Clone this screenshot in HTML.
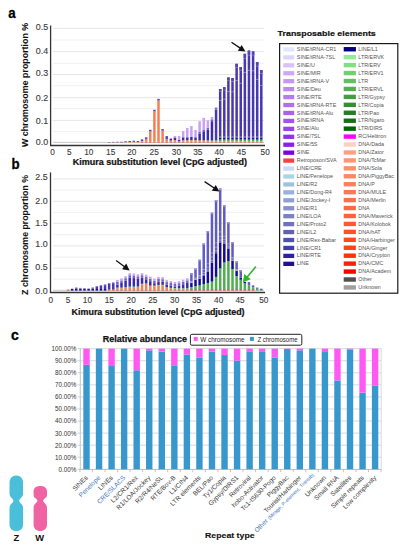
<!DOCTYPE html>
<html><head><meta charset="utf-8"><style>
html,body{margin:0;padding:0;background:#fff;width:411px;height:550px;overflow:hidden;}
body{position:relative;font-family:"Liberation Sans", sans-serif;}
</style></head><body>
<svg width="411" height="550" viewBox="0 0 411 550" style="position:absolute;left:0;top:0" font-family='"Liberation Sans", sans-serif'>
<rect x="0" y="0" width="411" height="550" fill="#fff"/>
<line x1="53.00" y1="142.40" x2="264.00" y2="142.40" stroke="#c8c8c8" stroke-width="1.0" />
<line x1="53.00" y1="131.70" x2="264.00" y2="131.70" stroke="#f0f0f0" stroke-width="1.0" />
<line x1="53.00" y1="120.40" x2="264.00" y2="120.40" stroke="#e6e6e6" stroke-width="1.0" />
<line x1="53.00" y1="108.70" x2="264.00" y2="108.70" stroke="#f0f0f0" stroke-width="1.0" />
<line x1="53.00" y1="97.70" x2="264.00" y2="97.70" stroke="#e6e6e6" stroke-width="1.0" />
<line x1="53.00" y1="85.80" x2="264.00" y2="85.80" stroke="#f0f0f0" stroke-width="1.0" />
<line x1="53.00" y1="74.50" x2="264.00" y2="74.50" stroke="#e6e6e6" stroke-width="1.0" />
<line x1="53.00" y1="63.30" x2="264.00" y2="63.30" stroke="#f0f0f0" stroke-width="1.0" />
<line x1="53.00" y1="51.40" x2="264.00" y2="51.40" stroke="#e6e6e6" stroke-width="1.0" />
<line x1="53.00" y1="40.00" x2="264.00" y2="40.00" stroke="#f0f0f0" stroke-width="1.0" />
<line x1="53.00" y1="28.40" x2="264.00" y2="28.40" stroke="#e6e6e6" stroke-width="1.0" />
<rect x="107.91" y="142.20" width="2.50" height="0.40" fill="#e2552f" />
<rect x="107.91" y="142.00" width="2.50" height="0.20" fill="#5646bd" />
<rect x="112.02" y="142.20" width="2.50" height="0.40" fill="#e2552f" />
<rect x="112.02" y="141.90" width="2.50" height="0.30" fill="#5646bd" />
<rect x="116.13" y="142.20" width="2.50" height="0.40" fill="#e2552f" />
<rect x="116.13" y="141.80" width="2.50" height="0.40" fill="#5646bd" />
<rect x="120.24" y="142.40" width="2.50" height="0.20" fill="#f57f55" />
<rect x="120.24" y="141.80" width="2.50" height="0.60" fill="#5646bd" />
<rect x="124.35" y="142.15" width="2.50" height="0.45" fill="#f57f55" />
<rect x="124.35" y="141.30" width="2.50" height="0.85" fill="#5646bd" />
<rect x="128.47" y="142.00" width="2.50" height="0.60" fill="#f57f55" />
<rect x="128.47" y="141.00" width="2.50" height="1.00" fill="#5646bd" />
<rect x="132.58" y="141.85" width="2.50" height="0.75" fill="#f57f55" />
<rect x="132.58" y="140.70" width="2.50" height="1.15" fill="#5646bd" />
<rect x="136.69" y="142.00" width="2.50" height="0.60" fill="#f57f55" />
<rect x="136.69" y="141.00" width="2.50" height="1.00" fill="#5646bd" />
<rect x="140.80" y="141.80" width="2.50" height="0.80" fill="#e2552f" />
<rect x="140.80" y="141.00" width="2.50" height="0.80" fill="#f57f55" />
<rect x="140.80" y="139.40" width="2.50" height="1.60" fill="#5646bd" />
<rect x="144.91" y="141.80" width="2.50" height="0.80" fill="#e2552f" />
<rect x="144.91" y="138.90" width="2.50" height="2.90" fill="#f57f55" />
<rect x="144.91" y="137.30" width="2.50" height="1.60" fill="#5646bd" />
<rect x="149.03" y="141.80" width="2.50" height="0.80" fill="#e2552f" />
<rect x="149.03" y="131.40" width="2.50" height="10.40" fill="#f57f55" />
<rect x="149.03" y="129.80" width="2.50" height="1.60" fill="#5646bd" />
<rect x="153.14" y="141.80" width="2.50" height="0.80" fill="#e2552f" />
<rect x="153.14" y="111.40" width="2.50" height="30.40" fill="#f57f55" />
<rect x="153.14" y="109.80" width="2.50" height="1.60" fill="#5646bd" />
<rect x="157.25" y="141.80" width="2.50" height="0.80" fill="#e2552f" />
<rect x="157.25" y="100.50" width="2.50" height="41.30" fill="#f57f55" />
<rect x="157.25" y="98.90" width="2.50" height="1.60" fill="#5646bd" />
<rect x="161.36" y="141.80" width="2.50" height="0.80" fill="#e2552f" />
<rect x="161.36" y="130.70" width="2.50" height="11.10" fill="#f57f55" />
<rect x="161.36" y="129.10" width="2.50" height="1.60" fill="#5646bd" />
<rect x="165.47" y="141.80" width="2.50" height="0.80" fill="#e2552f" />
<rect x="165.47" y="139.10" width="2.50" height="2.70" fill="#f57f55" />
<rect x="165.47" y="136.10" width="2.50" height="3.00" fill="#5646bd" />
<rect x="169.59" y="141.80" width="2.50" height="0.80" fill="#e2552f" />
<rect x="169.59" y="140.50" width="2.50" height="1.30" fill="#f57f55" />
<rect x="169.59" y="139.00" width="2.50" height="1.50" fill="#3b2ca6" />
<rect x="169.59" y="137.90" width="2.50" height="1.10" fill="#c9a2f3" />
<rect x="173.70" y="141.80" width="2.50" height="0.80" fill="#e2552f" />
<rect x="173.70" y="140.00" width="2.50" height="1.80" fill="#f57f55" />
<rect x="173.70" y="137.50" width="2.50" height="2.50" fill="#3b2ca6" />
<rect x="173.70" y="135.90" width="2.50" height="1.60" fill="#c9a2f3" />
<rect x="177.81" y="141.80" width="2.50" height="0.80" fill="#e2552f" />
<rect x="177.81" y="141.20" width="2.50" height="0.60" fill="#f57f55" />
<rect x="177.81" y="139.70" width="2.50" height="1.50" fill="#3b2ca6" />
<rect x="177.81" y="135.90" width="2.50" height="3.80" fill="#c9a2f3" />
<rect x="181.92" y="141.80" width="2.50" height="0.80" fill="#e2552f" />
<rect x="181.92" y="140.20" width="2.50" height="1.60" fill="#f57f55" />
<rect x="181.92" y="137.30" width="2.50" height="2.90" fill="#3b2ca6" />
<rect x="181.92" y="131.00" width="2.50" height="6.30" fill="#c9a2f3" />
<rect x="186.03" y="141.80" width="2.50" height="0.80" fill="#e2552f" />
<rect x="186.03" y="140.20" width="2.50" height="1.60" fill="#f57f55" />
<rect x="186.03" y="137.30" width="2.50" height="2.90" fill="#3b2ca6" />
<rect x="186.03" y="128.00" width="2.50" height="9.30" fill="#c9a2f3" />
<rect x="190.15" y="141.80" width="2.50" height="0.80" fill="#e2552f" />
<rect x="190.15" y="140.00" width="2.50" height="1.80" fill="#f57f55" />
<rect x="190.15" y="136.80" width="2.50" height="3.20" fill="#3b2ca6" />
<rect x="190.15" y="126.10" width="2.50" height="10.70" fill="#c9a2f3" />
<rect x="194.26" y="141.80" width="2.50" height="0.80" fill="#e2552f" />
<rect x="194.26" y="140.00" width="2.50" height="1.80" fill="#f57f55" />
<rect x="194.26" y="137.30" width="2.50" height="2.70" fill="#3b2ca6" />
<rect x="194.26" y="130.00" width="2.50" height="7.30" fill="#c9a2f3" />
<rect x="198.37" y="141.80" width="2.50" height="0.80" fill="#e2552f" />
<rect x="198.37" y="140.40" width="2.50" height="1.40" fill="#f57f55" />
<rect x="198.37" y="133.90" width="2.50" height="6.50" fill="#3b2ca6" />
<rect x="198.37" y="132.00" width="2.50" height="1.90" fill="#7462c9" />
<rect x="198.37" y="121.20" width="2.50" height="10.80" fill="#c9a2f3" />
<rect x="202.48" y="141.80" width="2.50" height="0.80" fill="#e2552f" />
<rect x="202.48" y="140.40" width="2.50" height="1.40" fill="#f57f55" />
<rect x="202.48" y="132.00" width="2.50" height="8.40" fill="#3b2ca6" />
<rect x="202.48" y="130.00" width="2.50" height="2.00" fill="#7462c9" />
<rect x="202.48" y="117.80" width="2.50" height="12.20" fill="#c9a2f3" />
<rect x="206.59" y="141.80" width="2.50" height="0.80" fill="#e2552f" />
<rect x="206.59" y="140.40" width="2.50" height="1.40" fill="#f57f55" />
<rect x="206.59" y="129.70" width="2.50" height="10.70" fill="#3b2ca6" />
<rect x="206.59" y="127.60" width="2.50" height="2.10" fill="#7462c9" />
<rect x="206.59" y="120.30" width="2.50" height="7.30" fill="#c9a2f3" />
<rect x="210.71" y="141.80" width="2.50" height="0.80" fill="#e2552f" />
<rect x="210.71" y="140.60" width="2.50" height="1.20" fill="#f57f55" />
<rect x="210.71" y="121.20" width="2.50" height="19.40" fill="#3b2ca6" />
<rect x="210.71" y="119.30" width="2.50" height="1.90" fill="#7462c9" />
<rect x="210.71" y="116.90" width="2.50" height="2.40" fill="#c9a2f3" />
<rect x="214.82" y="141.80" width="2.50" height="0.80" fill="#e2552f" />
<rect x="214.82" y="141.00" width="2.50" height="0.80" fill="#f57f55" />
<rect x="214.82" y="140.30" width="2.50" height="0.70" fill="#4caf50" />
<rect x="214.82" y="109.60" width="2.50" height="30.70" fill="#4838b0" />
<rect x="214.82" y="107.60" width="2.50" height="2.00" fill="#7462c9" />
<rect x="218.93" y="141.90" width="2.50" height="0.70" fill="#e2552f" />
<rect x="218.93" y="141.10" width="2.50" height="0.80" fill="#f57f55" />
<rect x="218.93" y="139.60" width="2.50" height="1.50" fill="#4caf50" />
<rect x="218.93" y="137.50" width="2.50" height="2.10" fill="#1c1090" />
<rect x="218.93" y="89.00" width="2.50" height="48.50" fill="#4838b0" />
<rect x="223.04" y="141.90" width="2.50" height="0.70" fill="#e2552f" />
<rect x="223.04" y="141.10" width="2.50" height="0.80" fill="#f57f55" />
<rect x="223.04" y="139.60" width="2.50" height="1.50" fill="#4caf50" />
<rect x="223.04" y="137.50" width="2.50" height="2.10" fill="#1c1090" />
<rect x="223.04" y="87.20" width="2.50" height="50.30" fill="#4838b0" />
<rect x="227.15" y="141.90" width="2.50" height="0.70" fill="#e2552f" />
<rect x="227.15" y="141.10" width="2.50" height="0.80" fill="#f57f55" />
<rect x="227.15" y="139.60" width="2.50" height="1.50" fill="#4caf50" />
<rect x="227.15" y="137.50" width="2.50" height="2.10" fill="#1c1090" />
<rect x="227.15" y="77.50" width="2.50" height="60.00" fill="#4838b0" />
<rect x="231.27" y="141.90" width="2.50" height="0.70" fill="#e2552f" />
<rect x="231.27" y="141.10" width="2.50" height="0.80" fill="#f57f55" />
<rect x="231.27" y="139.60" width="2.50" height="1.50" fill="#4caf50" />
<rect x="231.27" y="137.50" width="2.50" height="2.10" fill="#1c1090" />
<rect x="231.27" y="78.00" width="2.50" height="59.50" fill="#4838b0" />
<rect x="235.38" y="141.90" width="2.50" height="0.70" fill="#e2552f" />
<rect x="235.38" y="141.10" width="2.50" height="0.80" fill="#f57f55" />
<rect x="235.38" y="139.60" width="2.50" height="1.50" fill="#4caf50" />
<rect x="235.38" y="137.50" width="2.50" height="2.10" fill="#1c1090" />
<rect x="235.38" y="63.80" width="2.50" height="73.70" fill="#4838b0" />
<rect x="239.49" y="141.90" width="2.50" height="0.70" fill="#e2552f" />
<rect x="239.49" y="141.10" width="2.50" height="0.80" fill="#f57f55" />
<rect x="239.49" y="139.60" width="2.50" height="1.50" fill="#4caf50" />
<rect x="239.49" y="137.50" width="2.50" height="2.10" fill="#1c1090" />
<rect x="239.49" y="67.00" width="2.50" height="70.50" fill="#4838b0" />
<rect x="243.60" y="141.90" width="2.50" height="0.70" fill="#e2552f" />
<rect x="243.60" y="141.10" width="2.50" height="0.80" fill="#f57f55" />
<rect x="243.60" y="139.60" width="2.50" height="1.50" fill="#4caf50" />
<rect x="243.60" y="137.50" width="2.50" height="2.10" fill="#1c1090" />
<rect x="243.60" y="53.80" width="2.50" height="83.70" fill="#4838b0" />
<rect x="247.71" y="141.90" width="2.50" height="0.70" fill="#e2552f" />
<rect x="247.71" y="141.10" width="2.50" height="0.80" fill="#f57f55" />
<rect x="247.71" y="139.60" width="2.50" height="1.50" fill="#4caf50" />
<rect x="247.71" y="137.50" width="2.50" height="2.10" fill="#1c1090" />
<rect x="247.71" y="50.60" width="2.50" height="86.90" fill="#4838b0" />
<rect x="251.83" y="141.90" width="2.50" height="0.70" fill="#e2552f" />
<rect x="251.83" y="141.10" width="2.50" height="0.80" fill="#f57f55" />
<rect x="251.83" y="139.60" width="2.50" height="1.50" fill="#4caf50" />
<rect x="251.83" y="137.50" width="2.50" height="2.10" fill="#1c1090" />
<rect x="251.83" y="51.40" width="2.50" height="86.10" fill="#4838b0" />
<rect x="255.94" y="141.90" width="2.50" height="0.70" fill="#e2552f" />
<rect x="255.94" y="141.10" width="2.50" height="0.80" fill="#f57f55" />
<rect x="255.94" y="139.60" width="2.50" height="1.50" fill="#4caf50" />
<rect x="255.94" y="137.50" width="2.50" height="2.10" fill="#1c1090" />
<rect x="255.94" y="62.00" width="2.50" height="75.50" fill="#4838b0" />
<rect x="260.05" y="141.90" width="2.50" height="0.70" fill="#e2552f" />
<rect x="260.05" y="141.10" width="2.50" height="0.80" fill="#f57f55" />
<rect x="260.05" y="139.60" width="2.50" height="1.50" fill="#4caf50" />
<rect x="260.05" y="137.50" width="2.50" height="2.10" fill="#1c1090" />
<rect x="260.05" y="70.00" width="2.50" height="67.50" fill="#4838b0" />
<rect x="218.93" y="91.41" width="2.50" height="0.60" fill="#ffffff" opacity="0.6"/>
<rect x="218.93" y="100.26" width="2.50" height="0.60" fill="#ffffff" opacity="0.6"/>
<rect x="218.93" y="136.60" width="2.50" height="0.50" fill="#ffffff" opacity="0.5"/>
<rect x="218.93" y="89.00" width="2.50" height="2.41" fill="#5444b8" />
<rect x="223.04" y="89.69" width="2.50" height="0.60" fill="#ffffff" opacity="0.6"/>
<rect x="223.04" y="98.83" width="2.50" height="0.60" fill="#ffffff" opacity="0.6"/>
<rect x="223.04" y="136.60" width="2.50" height="0.50" fill="#ffffff" opacity="0.5"/>
<rect x="223.04" y="87.20" width="2.50" height="2.49" fill="#5444b8" />
<rect x="227.15" y="80.43" width="2.50" height="0.60" fill="#ffffff" opacity="0.6"/>
<rect x="227.15" y="91.17" width="2.50" height="0.60" fill="#ffffff" opacity="0.6"/>
<rect x="227.15" y="136.60" width="2.50" height="0.50" fill="#ffffff" opacity="0.5"/>
<rect x="227.15" y="77.50" width="2.50" height="2.93" fill="#5444b8" />
<rect x="231.27" y="80.91" width="2.50" height="0.60" fill="#ffffff" opacity="0.6"/>
<rect x="231.27" y="91.57" width="2.50" height="0.60" fill="#ffffff" opacity="0.6"/>
<rect x="231.27" y="136.60" width="2.50" height="0.50" fill="#ffffff" opacity="0.5"/>
<rect x="231.27" y="78.00" width="2.50" height="2.91" fill="#5444b8" />
<rect x="235.38" y="67.35" width="2.50" height="0.60" fill="#ffffff" opacity="0.6"/>
<rect x="235.38" y="80.35" width="2.50" height="0.60" fill="#ffffff" opacity="0.6"/>
<rect x="235.38" y="136.60" width="2.50" height="0.50" fill="#ffffff" opacity="0.5"/>
<rect x="235.38" y="63.80" width="2.50" height="3.55" fill="#5444b8" />
<rect x="239.49" y="70.40" width="2.50" height="0.60" fill="#ffffff" opacity="0.6"/>
<rect x="239.49" y="82.88" width="2.50" height="0.60" fill="#ffffff" opacity="0.6"/>
<rect x="239.49" y="136.60" width="2.50" height="0.50" fill="#ffffff" opacity="0.5"/>
<rect x="239.49" y="67.00" width="2.50" height="3.40" fill="#5444b8" />
<rect x="243.60" y="57.80" width="2.50" height="0.60" fill="#ffffff" opacity="0.6"/>
<rect x="243.60" y="72.45" width="2.50" height="0.60" fill="#ffffff" opacity="0.6"/>
<rect x="243.60" y="136.60" width="2.50" height="0.50" fill="#ffffff" opacity="0.5"/>
<rect x="243.60" y="53.80" width="2.50" height="4.00" fill="#5444b8" />
<rect x="247.71" y="54.74" width="2.50" height="0.60" fill="#ffffff" opacity="0.6"/>
<rect x="247.71" y="69.92" width="2.50" height="0.60" fill="#ffffff" opacity="0.6"/>
<rect x="247.71" y="136.60" width="2.50" height="0.50" fill="#ffffff" opacity="0.5"/>
<rect x="247.71" y="50.60" width="2.50" height="4.14" fill="#5444b8" />
<rect x="251.83" y="55.50" width="2.50" height="0.60" fill="#ffffff" opacity="0.6"/>
<rect x="251.83" y="70.55" width="2.50" height="0.60" fill="#ffffff" opacity="0.6"/>
<rect x="251.83" y="136.60" width="2.50" height="0.50" fill="#ffffff" opacity="0.5"/>
<rect x="251.83" y="51.40" width="2.50" height="4.10" fill="#5444b8" />
<rect x="255.94" y="65.63" width="2.50" height="0.60" fill="#ffffff" opacity="0.6"/>
<rect x="255.94" y="78.93" width="2.50" height="0.60" fill="#ffffff" opacity="0.6"/>
<rect x="255.94" y="136.60" width="2.50" height="0.50" fill="#ffffff" opacity="0.5"/>
<rect x="255.94" y="62.00" width="2.50" height="3.63" fill="#5444b8" />
<rect x="260.05" y="73.27" width="2.50" height="0.60" fill="#ffffff" opacity="0.6"/>
<rect x="260.05" y="85.25" width="2.50" height="0.60" fill="#ffffff" opacity="0.6"/>
<rect x="260.05" y="136.60" width="2.50" height="0.50" fill="#ffffff" opacity="0.5"/>
<rect x="260.05" y="70.00" width="2.50" height="3.27" fill="#5444b8" />
<line x1="50.60" y1="25.50" x2="50.60" y2="145.90" stroke="#333" stroke-width="1.3" />
<line x1="50.00" y1="145.50" x2="265.00" y2="145.50" stroke="#333" stroke-width="1.6" />
<text x="48.20" y="144.90" font-size="8.2" fill="#3c3c3c" font-weight="normal" text-anchor="end" textLength="12.4" lengthAdjust="spacingAndGlyphs" stroke="#3c3c3c" stroke-width="0.12">0.0</text>
<text x="48.20" y="123.60" font-size="8.2" fill="#3c3c3c" font-weight="normal" text-anchor="end" textLength="12.4" lengthAdjust="spacingAndGlyphs" stroke="#3c3c3c" stroke-width="0.12">0.1</text>
<text x="48.20" y="100.60" font-size="8.2" fill="#3c3c3c" font-weight="normal" text-anchor="end" textLength="12.4" lengthAdjust="spacingAndGlyphs" stroke="#3c3c3c" stroke-width="0.12">0.2</text>
<text x="48.20" y="76.10" font-size="8.2" fill="#3c3c3c" font-weight="normal" text-anchor="end" textLength="12.4" lengthAdjust="spacingAndGlyphs" stroke="#3c3c3c" stroke-width="0.12">0.3</text>
<text x="48.20" y="54.30" font-size="8.2" fill="#3c3c3c" font-weight="normal" text-anchor="end" textLength="12.4" lengthAdjust="spacingAndGlyphs" stroke="#3c3c3c" stroke-width="0.12">0.4</text>
<text x="48.20" y="30.20" font-size="8.2" fill="#3c3c3c" font-weight="normal" text-anchor="end" textLength="12.4" lengthAdjust="spacingAndGlyphs" stroke="#3c3c3c" stroke-width="0.12">0.5</text>
<text x="52.60" y="154.50" font-size="8.5" fill="#3c3c3c" font-weight="normal" text-anchor="middle" textLength="4.60" lengthAdjust="spacingAndGlyphs" stroke="#3c3c3c" stroke-width="0.12">0</text>
<text x="69.30" y="154.50" font-size="8.5" fill="#3c3c3c" font-weight="normal" text-anchor="middle" textLength="4.60" lengthAdjust="spacingAndGlyphs" stroke="#3c3c3c" stroke-width="0.12">5</text>
<text x="88.80" y="154.50" font-size="8.5" fill="#3c3c3c" font-weight="normal" text-anchor="middle" textLength="9.20" lengthAdjust="spacingAndGlyphs" stroke="#3c3c3c" stroke-width="0.12">10</text>
<text x="110.70" y="154.50" font-size="8.5" fill="#3c3c3c" font-weight="normal" text-anchor="middle" textLength="9.20" lengthAdjust="spacingAndGlyphs" stroke="#3c3c3c" stroke-width="0.12">15</text>
<text x="131.80" y="154.50" font-size="8.5" fill="#3c3c3c" font-weight="normal" text-anchor="middle" textLength="9.20" lengthAdjust="spacingAndGlyphs" stroke="#3c3c3c" stroke-width="0.12">20</text>
<text x="154.20" y="154.50" font-size="8.5" fill="#3c3c3c" font-weight="normal" text-anchor="middle" textLength="9.20" lengthAdjust="spacingAndGlyphs" stroke="#3c3c3c" stroke-width="0.12">25</text>
<text x="176.40" y="154.50" font-size="8.5" fill="#3c3c3c" font-weight="normal" text-anchor="middle" textLength="9.20" lengthAdjust="spacingAndGlyphs" stroke="#3c3c3c" stroke-width="0.12">30</text>
<text x="197.80" y="154.50" font-size="8.5" fill="#3c3c3c" font-weight="normal" text-anchor="middle" textLength="9.20" lengthAdjust="spacingAndGlyphs" stroke="#3c3c3c" stroke-width="0.12">35</text>
<text x="219.20" y="154.50" font-size="8.5" fill="#3c3c3c" font-weight="normal" text-anchor="middle" textLength="9.20" lengthAdjust="spacingAndGlyphs" stroke="#3c3c3c" stroke-width="0.12">40</text>
<text x="241.40" y="154.50" font-size="8.5" fill="#3c3c3c" font-weight="normal" text-anchor="middle" textLength="9.20" lengthAdjust="spacingAndGlyphs" stroke="#3c3c3c" stroke-width="0.12">45</text>
<text x="265.20" y="154.50" font-size="8.5" fill="#3c3c3c" font-weight="normal" text-anchor="middle" textLength="9.20" lengthAdjust="spacingAndGlyphs" stroke="#3c3c3c" stroke-width="0.12">50</text>
<text x="72.70" y="165.20" font-size="8.2" fill="#111" font-weight="bold" text-anchor="start" textLength="174.4" lengthAdjust="spacingAndGlyphs" stroke="#111" stroke-width="0.22">Kimura substitution level (CpG adjusted)</text>
<text transform="translate(27.9,147.0) rotate(-90)" font-size="8.7" font-weight="bold" fill="#111" stroke="#111" stroke-width="0.05" textLength="124.2" lengthAdjust="spacingAndGlyphs">W chromosome proportion %</text>
<text x="8.30" y="17.60" font-size="14.0" fill="#000" font-weight="bold" text-anchor="start" stroke="#000" stroke-width="0.3" textLength="7.4" lengthAdjust="spacingAndGlyphs">a</text>
<line x1="231.50" y1="42.30" x2="240.16" y2="48.10" stroke="#111" stroke-width="1.3" />
<polygon points="245.40,51.60 237.80,50.73 241.69,44.91" fill="#111"/>
<line x1="53.00" y1="290.30" x2="264.00" y2="290.30" stroke="#c8c8c8" stroke-width="1.0" />
<line x1="53.00" y1="279.20" x2="264.00" y2="279.20" stroke="#f0f0f0" stroke-width="1.0" />
<line x1="53.00" y1="268.20" x2="264.00" y2="268.20" stroke="#e6e6e6" stroke-width="1.0" />
<line x1="53.00" y1="257.10" x2="264.00" y2="257.10" stroke="#f0f0f0" stroke-width="1.0" />
<line x1="53.00" y1="245.90" x2="264.00" y2="245.90" stroke="#e6e6e6" stroke-width="1.0" />
<line x1="53.00" y1="234.70" x2="264.00" y2="234.70" stroke="#f0f0f0" stroke-width="1.0" />
<line x1="53.00" y1="223.30" x2="264.00" y2="223.30" stroke="#e6e6e6" stroke-width="1.0" />
<line x1="53.00" y1="212.30" x2="264.00" y2="212.30" stroke="#f0f0f0" stroke-width="1.0" />
<line x1="53.00" y1="201.30" x2="264.00" y2="201.30" stroke="#e6e6e6" stroke-width="1.0" />
<line x1="53.00" y1="190.10" x2="264.00" y2="190.10" stroke="#f0f0f0" stroke-width="1.0" />
<line x1="53.00" y1="179.00" x2="264.00" y2="179.00" stroke="#e6e6e6" stroke-width="1.0" />
<rect x="66.79" y="289.60" width="2.50" height="1.00" fill="#e2552f" />
<rect x="70.90" y="289.00" width="2.50" height="1.60" fill="#1c1090" />
<rect x="70.90" y="288.70" width="2.50" height="0.30" fill="#7462c9" />
<rect x="75.01" y="289.00" width="2.50" height="1.60" fill="#1c1090" />
<rect x="75.01" y="288.30" width="2.50" height="0.70" fill="#4838b0" />
<rect x="75.01" y="287.50" width="2.50" height="0.80" fill="#7462c9" />
<rect x="79.12" y="289.00" width="2.50" height="1.60" fill="#1c1090" />
<rect x="79.12" y="288.70" width="2.50" height="0.30" fill="#4838b0" />
<rect x="79.12" y="287.90" width="2.50" height="0.80" fill="#7462c9" />
<rect x="83.23" y="289.00" width="2.50" height="1.60" fill="#1c1090" />
<rect x="83.23" y="288.20" width="2.50" height="0.80" fill="#7462c9" />
<rect x="87.35" y="289.00" width="2.50" height="1.60" fill="#1c1090" />
<rect x="87.35" y="288.50" width="2.50" height="0.50" fill="#7462c9" />
<rect x="91.46" y="289.00" width="2.50" height="1.60" fill="#1c1090" />
<rect x="91.46" y="288.30" width="2.50" height="0.70" fill="#4838b0" />
<rect x="91.46" y="287.50" width="2.50" height="0.80" fill="#7462c9" />
<rect x="95.57" y="289.00" width="2.50" height="1.60" fill="#1c1090" />
<rect x="95.57" y="287.00" width="2.50" height="2.00" fill="#4838b0" />
<rect x="95.57" y="286.20" width="2.50" height="0.80" fill="#7462c9" />
<rect x="99.68" y="289.00" width="2.50" height="1.60" fill="#1c1090" />
<rect x="99.68" y="286.00" width="2.50" height="3.00" fill="#4838b0" />
<rect x="99.68" y="285.20" width="2.50" height="0.80" fill="#7462c9" />
<rect x="103.79" y="289.00" width="2.50" height="1.60" fill="#1c1090" />
<rect x="103.79" y="285.20" width="2.50" height="3.80" fill="#4838b0" />
<rect x="103.79" y="284.40" width="2.50" height="0.80" fill="#7462c9" />
<rect x="107.91" y="289.00" width="2.50" height="1.60" fill="#e2552f" />
<rect x="107.91" y="284.00" width="2.50" height="5.00" fill="#4838b0" />
<rect x="107.91" y="283.20" width="2.50" height="0.80" fill="#7462c9" />
<rect x="112.02" y="289.00" width="2.50" height="1.60" fill="#e2552f" />
<rect x="112.02" y="283.20" width="2.50" height="5.80" fill="#4838b0" />
<rect x="112.02" y="282.40" width="2.50" height="0.80" fill="#7462c9" />
<rect x="116.13" y="289.30" width="2.50" height="1.30" fill="#e2552f" />
<rect x="116.13" y="288.20" width="2.50" height="1.10" fill="#f57f55" />
<rect x="116.13" y="287.60" width="2.50" height="0.60" fill="#4caf50" />
<rect x="116.13" y="284.60" width="2.50" height="3.00" fill="#3b2ca6" />
<rect x="116.13" y="282.00" width="2.50" height="2.60" fill="#7462c9" />
<rect x="116.13" y="280.00" width="2.50" height="2.00" fill="#c9a2f3" />
<rect x="120.24" y="289.30" width="2.50" height="1.30" fill="#e2552f" />
<rect x="120.24" y="288.20" width="2.50" height="1.10" fill="#f57f55" />
<rect x="120.24" y="287.60" width="2.50" height="0.60" fill="#4caf50" />
<rect x="120.24" y="283.00" width="2.50" height="4.60" fill="#3b2ca6" />
<rect x="120.24" y="280.40" width="2.50" height="2.60" fill="#7462c9" />
<rect x="120.24" y="278.40" width="2.50" height="2.00" fill="#c9a2f3" />
<rect x="124.35" y="289.30" width="2.50" height="1.30" fill="#e2552f" />
<rect x="124.35" y="287.80" width="2.50" height="1.50" fill="#f57f55" />
<rect x="124.35" y="287.20" width="2.50" height="0.60" fill="#4caf50" />
<rect x="124.35" y="280.80" width="2.50" height="6.40" fill="#3b2ca6" />
<rect x="124.35" y="278.20" width="2.50" height="2.60" fill="#7462c9" />
<rect x="124.35" y="276.20" width="2.50" height="2.00" fill="#c9a2f3" />
<rect x="128.47" y="289.30" width="2.50" height="1.30" fill="#e2552f" />
<rect x="128.47" y="287.20" width="2.50" height="2.10" fill="#f57f55" />
<rect x="128.47" y="286.60" width="2.50" height="0.60" fill="#4caf50" />
<rect x="128.47" y="277.80" width="2.50" height="8.80" fill="#3b2ca6" />
<rect x="128.47" y="275.20" width="2.50" height="2.60" fill="#7462c9" />
<rect x="128.47" y="273.20" width="2.50" height="2.00" fill="#c9a2f3" />
<rect x="132.58" y="289.30" width="2.50" height="1.30" fill="#e2552f" />
<rect x="132.58" y="287.20" width="2.50" height="2.10" fill="#f57f55" />
<rect x="132.58" y="286.60" width="2.50" height="0.60" fill="#4caf50" />
<rect x="132.58" y="278.10" width="2.50" height="8.50" fill="#3b2ca6" />
<rect x="132.58" y="275.50" width="2.50" height="2.60" fill="#7462c9" />
<rect x="132.58" y="273.50" width="2.50" height="2.00" fill="#c9a2f3" />
<rect x="136.69" y="289.30" width="2.50" height="1.30" fill="#e2552f" />
<rect x="136.69" y="287.00" width="2.50" height="2.30" fill="#f57f55" />
<rect x="136.69" y="286.40" width="2.50" height="0.60" fill="#4caf50" />
<rect x="136.69" y="278.90" width="2.50" height="7.50" fill="#3b2ca6" />
<rect x="136.69" y="276.30" width="2.50" height="2.60" fill="#7462c9" />
<rect x="136.69" y="274.30" width="2.50" height="2.00" fill="#c9a2f3" />
<rect x="140.80" y="289.30" width="2.50" height="1.30" fill="#e2552f" />
<rect x="140.80" y="284.40" width="2.50" height="4.90" fill="#f57f55" />
<rect x="140.80" y="283.80" width="2.50" height="0.60" fill="#4caf50" />
<rect x="140.80" y="277.80" width="2.50" height="6.00" fill="#3b2ca6" />
<rect x="140.80" y="275.20" width="2.50" height="2.60" fill="#7462c9" />
<rect x="140.80" y="273.20" width="2.50" height="2.00" fill="#c9a2f3" />
<rect x="144.91" y="289.30" width="2.50" height="1.30" fill="#e2552f" />
<rect x="144.91" y="284.00" width="2.50" height="5.30" fill="#f57f55" />
<rect x="144.91" y="283.40" width="2.50" height="0.60" fill="#4caf50" />
<rect x="144.91" y="279.30" width="2.50" height="4.10" fill="#3b2ca6" />
<rect x="144.91" y="276.70" width="2.50" height="2.60" fill="#7462c9" />
<rect x="144.91" y="274.70" width="2.50" height="2.00" fill="#c9a2f3" />
<rect x="149.03" y="289.30" width="2.50" height="1.30" fill="#e2552f" />
<rect x="149.03" y="286.20" width="2.50" height="3.10" fill="#f57f55" />
<rect x="149.03" y="285.60" width="2.50" height="0.60" fill="#4caf50" />
<rect x="149.03" y="281.20" width="2.50" height="4.40" fill="#3b2ca6" />
<rect x="149.03" y="278.60" width="2.50" height="2.60" fill="#7462c9" />
<rect x="149.03" y="276.60" width="2.50" height="2.00" fill="#c9a2f3" />
<rect x="153.14" y="289.30" width="2.50" height="1.30" fill="#e2552f" />
<rect x="153.14" y="286.20" width="2.50" height="3.10" fill="#f57f55" />
<rect x="153.14" y="285.60" width="2.50" height="0.60" fill="#4caf50" />
<rect x="153.14" y="283.20" width="2.50" height="2.40" fill="#3b2ca6" />
<rect x="153.14" y="280.60" width="2.50" height="2.60" fill="#7462c9" />
<rect x="153.14" y="278.60" width="2.50" height="2.00" fill="#c9a2f3" />
<rect x="157.25" y="289.30" width="2.50" height="1.30" fill="#e2552f" />
<rect x="157.25" y="285.60" width="2.50" height="3.70" fill="#f57f55" />
<rect x="157.25" y="285.00" width="2.50" height="0.60" fill="#4caf50" />
<rect x="157.25" y="281.50" width="2.50" height="3.50" fill="#3b2ca6" />
<rect x="157.25" y="278.90" width="2.50" height="2.60" fill="#7462c9" />
<rect x="157.25" y="276.90" width="2.50" height="2.00" fill="#c9a2f3" />
<rect x="161.36" y="289.30" width="2.50" height="1.30" fill="#e2552f" />
<rect x="161.36" y="285.40" width="2.50" height="3.90" fill="#f57f55" />
<rect x="161.36" y="284.80" width="2.50" height="0.60" fill="#4caf50" />
<rect x="161.36" y="281.80" width="2.50" height="3.00" fill="#3b2ca6" />
<rect x="161.36" y="279.20" width="2.50" height="2.60" fill="#7462c9" />
<rect x="161.36" y="277.20" width="2.50" height="2.00" fill="#c9a2f3" />
<rect x="165.47" y="289.30" width="2.50" height="1.30" fill="#e2552f" />
<rect x="165.47" y="287.80" width="2.50" height="1.50" fill="#f57f55" />
<rect x="165.47" y="287.20" width="2.50" height="0.60" fill="#4caf50" />
<rect x="165.47" y="284.70" width="2.50" height="2.50" fill="#3b2ca6" />
<rect x="165.47" y="282.10" width="2.50" height="2.60" fill="#7462c9" />
<rect x="165.47" y="280.10" width="2.50" height="2.00" fill="#c9a2f3" />
<rect x="169.59" y="289.30" width="2.50" height="1.30" fill="#e2552f" />
<rect x="169.59" y="288.40" width="2.50" height="0.90" fill="#f57f55" />
<rect x="169.59" y="287.80" width="2.50" height="0.60" fill="#4caf50" />
<rect x="169.59" y="285.60" width="2.50" height="2.20" fill="#3b2ca6" />
<rect x="169.59" y="283.00" width="2.50" height="2.60" fill="#7462c9" />
<rect x="169.59" y="281.00" width="2.50" height="2.00" fill="#c9a2f3" />
<rect x="173.70" y="289.30" width="2.50" height="1.30" fill="#e2552f" />
<rect x="173.70" y="288.60" width="2.50" height="0.70" fill="#f57f55" />
<rect x="173.70" y="288.00" width="2.50" height="0.60" fill="#4caf50" />
<rect x="173.70" y="286.60" width="2.50" height="1.40" fill="#3b2ca6" />
<rect x="173.70" y="284.00" width="2.50" height="2.60" fill="#7462c9" />
<rect x="173.70" y="282.00" width="2.50" height="2.00" fill="#c9a2f3" />
<rect x="177.81" y="289.30" width="2.50" height="1.30" fill="#e2552f" />
<rect x="177.81" y="288.80" width="2.50" height="0.50" fill="#f57f55" />
<rect x="177.81" y="288.20" width="2.50" height="0.60" fill="#4caf50" />
<rect x="177.81" y="285.80" width="2.50" height="2.40" fill="#3b2ca6" />
<rect x="177.81" y="283.20" width="2.50" height="2.60" fill="#7462c9" />
<rect x="177.81" y="281.20" width="2.50" height="2.00" fill="#c9a2f3" />
<rect x="181.92" y="289.30" width="2.50" height="1.30" fill="#e2552f" />
<rect x="181.92" y="288.80" width="2.50" height="0.50" fill="#f57f55" />
<rect x="181.92" y="288.20" width="2.50" height="0.60" fill="#4caf50" />
<rect x="181.92" y="284.30" width="2.50" height="3.90" fill="#3b2ca6" />
<rect x="181.92" y="281.70" width="2.50" height="2.60" fill="#7462c9" />
<rect x="181.92" y="279.70" width="2.50" height="2.00" fill="#c9a2f3" />
<rect x="186.03" y="289.30" width="2.50" height="1.30" fill="#e2552f" />
<rect x="186.03" y="288.80" width="2.50" height="0.50" fill="#f57f55" />
<rect x="186.03" y="288.20" width="2.50" height="0.60" fill="#4caf50" />
<rect x="186.03" y="282.90" width="2.50" height="5.30" fill="#3b2ca6" />
<rect x="186.03" y="280.30" width="2.50" height="2.60" fill="#7462c9" />
<rect x="186.03" y="278.30" width="2.50" height="2.00" fill="#c9a2f3" />
<rect x="190.15" y="289.40" width="2.50" height="1.20" fill="#d9452e" />
<rect x="190.15" y="288.40" width="2.50" height="1.00" fill="#1d6b1d" />
<rect x="190.15" y="287.00" width="2.50" height="1.40" fill="#4fae4f" />
<rect x="190.15" y="283.00" width="2.50" height="4.00" fill="#160c8e" />
<rect x="190.15" y="273.20" width="2.50" height="9.80" fill="#615bbf" />
<rect x="194.26" y="289.40" width="2.50" height="1.20" fill="#d9452e" />
<rect x="194.26" y="288.40" width="2.50" height="1.00" fill="#1d6b1d" />
<rect x="194.26" y="286.00" width="2.50" height="2.40" fill="#4fae4f" />
<rect x="194.26" y="280.00" width="2.50" height="6.00" fill="#160c8e" />
<rect x="194.26" y="268.50" width="2.50" height="11.50" fill="#615bbf" />
<rect x="198.37" y="289.40" width="2.50" height="1.20" fill="#d9452e" />
<rect x="198.37" y="288.40" width="2.50" height="1.00" fill="#1d6b1d" />
<rect x="198.37" y="285.40" width="2.50" height="3.00" fill="#4fae4f" />
<rect x="198.37" y="278.80" width="2.50" height="6.60" fill="#160c8e" />
<rect x="198.37" y="259.70" width="2.50" height="19.10" fill="#615bbf" />
<rect x="202.48" y="289.40" width="2.50" height="1.20" fill="#d9452e" />
<rect x="202.48" y="288.40" width="2.50" height="1.00" fill="#1d6b1d" />
<rect x="202.48" y="284.00" width="2.50" height="4.40" fill="#4fae4f" />
<rect x="202.48" y="275.90" width="2.50" height="8.10" fill="#160c8e" />
<rect x="202.48" y="243.50" width="2.50" height="32.40" fill="#615bbf" />
<rect x="206.59" y="289.40" width="2.50" height="1.20" fill="#d9452e" />
<rect x="206.59" y="288.40" width="2.50" height="1.00" fill="#1d6b1d" />
<rect x="206.59" y="283.00" width="2.50" height="5.40" fill="#4fae4f" />
<rect x="206.59" y="271.70" width="2.50" height="11.30" fill="#160c8e" />
<rect x="206.59" y="231.00" width="2.50" height="40.70" fill="#615bbf" />
<rect x="210.71" y="289.40" width="2.50" height="1.20" fill="#d9452e" />
<rect x="210.71" y="288.40" width="2.50" height="1.00" fill="#1d6b1d" />
<rect x="210.71" y="281.60" width="2.50" height="6.80" fill="#4fae4f" />
<rect x="210.71" y="262.70" width="2.50" height="18.90" fill="#160c8e" />
<rect x="210.71" y="212.70" width="2.50" height="50.00" fill="#615bbf" />
<rect x="214.82" y="289.40" width="2.50" height="1.20" fill="#d9452e" />
<rect x="214.82" y="288.40" width="2.50" height="1.00" fill="#1d6b1d" />
<rect x="214.82" y="276.90" width="2.50" height="11.50" fill="#4fae4f" />
<rect x="214.82" y="253.20" width="2.50" height="23.70" fill="#160c8e" />
<rect x="214.82" y="200.00" width="2.50" height="53.20" fill="#615bbf" />
<rect x="218.93" y="289.40" width="2.50" height="1.20" fill="#d9452e" />
<rect x="218.93" y="288.40" width="2.50" height="1.00" fill="#1d6b1d" />
<rect x="218.93" y="268.40" width="2.50" height="20.00" fill="#4fae4f" />
<rect x="218.93" y="242.40" width="2.50" height="26.00" fill="#160c8e" />
<rect x="218.93" y="188.50" width="2.50" height="53.90" fill="#615bbf" />
<rect x="223.04" y="289.40" width="2.50" height="1.20" fill="#d9452e" />
<rect x="223.04" y="288.40" width="2.50" height="1.00" fill="#1d6b1d" />
<rect x="223.04" y="262.50" width="2.50" height="25.90" fill="#4fae4f" />
<rect x="223.04" y="243.50" width="2.50" height="19.00" fill="#160c8e" />
<rect x="223.04" y="205.20" width="2.50" height="38.30" fill="#615bbf" />
<rect x="227.15" y="289.40" width="2.50" height="1.20" fill="#d9452e" />
<rect x="227.15" y="288.40" width="2.50" height="1.00" fill="#1d6b1d" />
<rect x="227.15" y="261.00" width="2.50" height="27.40" fill="#4fae4f" />
<rect x="227.15" y="249.00" width="2.50" height="12.00" fill="#160c8e" />
<rect x="227.15" y="222.20" width="2.50" height="26.80" fill="#615bbf" />
<rect x="231.27" y="289.40" width="2.50" height="1.20" fill="#d9452e" />
<rect x="231.27" y="288.40" width="2.50" height="1.00" fill="#1d6b1d" />
<rect x="231.27" y="269.00" width="2.50" height="19.40" fill="#4fae4f" />
<rect x="231.27" y="261.00" width="2.50" height="8.00" fill="#160c8e" />
<rect x="231.27" y="242.00" width="2.50" height="19.00" fill="#615bbf" />
<rect x="235.38" y="289.40" width="2.50" height="1.20" fill="#d9452e" />
<rect x="235.38" y="288.40" width="2.50" height="1.00" fill="#1d6b1d" />
<rect x="235.38" y="276.00" width="2.50" height="12.40" fill="#4fae4f" />
<rect x="235.38" y="271.00" width="2.50" height="5.00" fill="#160c8e" />
<rect x="235.38" y="261.40" width="2.50" height="9.60" fill="#615bbf" />
<rect x="239.49" y="289.40" width="2.50" height="1.20" fill="#d9452e" />
<rect x="239.49" y="288.40" width="2.50" height="1.00" fill="#1d6b1d" />
<rect x="239.49" y="279.70" width="2.50" height="8.70" fill="#4fae4f" />
<rect x="239.49" y="277.80" width="2.50" height="1.90" fill="#160c8e" />
<rect x="239.49" y="270.00" width="2.50" height="7.80" fill="#615bbf" />
<rect x="243.60" y="289.40" width="2.50" height="1.20" fill="#d9452e" />
<rect x="243.60" y="288.40" width="2.50" height="1.00" fill="#1d6b1d" />
<rect x="243.60" y="283.40" width="2.50" height="5.00" fill="#4fae4f" />
<rect x="243.60" y="281.90" width="2.50" height="1.50" fill="#160c8e" />
<rect x="247.71" y="289.40" width="2.50" height="1.20" fill="#d9452e" />
<rect x="247.71" y="288.40" width="2.50" height="1.00" fill="#1d6b1d" />
<rect x="247.71" y="285.30" width="2.50" height="3.10" fill="#4fae4f" />
<rect x="247.71" y="282.10" width="2.50" height="3.20" fill="#615bbf" />
<rect x="251.83" y="289.40" width="2.50" height="1.20" fill="#d9452e" />
<rect x="251.83" y="288.40" width="2.50" height="1.00" fill="#1d6b1d" />
<rect x="251.83" y="287.40" width="2.50" height="1.00" fill="#4fae4f" />
<rect x="251.83" y="285.40" width="2.50" height="2.00" fill="#615bbf" />
<rect x="255.94" y="288.80" width="2.50" height="1.80" fill="#4fae4f" />
<rect x="255.94" y="287.60" width="2.50" height="1.20" fill="#615bbf" />
<rect x="260.05" y="290.00" width="2.50" height="0.60" fill="#4fae4f" />
<rect x="260.05" y="288.70" width="2.50" height="1.30" fill="#615bbf" />
<rect x="190.15" y="273.20" width="2.50" height="1.60" fill="#9a92dc" />
<rect x="190.15" y="281.04" width="2.50" height="0.60" fill="#ffffff" opacity="0.55"/>
<rect x="190.15" y="281.82" width="2.50" height="0.60" fill="#ffffff" opacity="0.55"/>
<rect x="190.15" y="282.51" width="2.50" height="0.60" fill="#ffffff" opacity="0.55"/>
<rect x="194.26" y="268.50" width="2.50" height="1.60" fill="#9a92dc" />
<rect x="194.26" y="277.70" width="2.50" height="0.60" fill="#ffffff" opacity="0.55"/>
<rect x="194.26" y="278.62" width="2.50" height="0.60" fill="#ffffff" opacity="0.55"/>
<rect x="194.26" y="279.43" width="2.50" height="0.60" fill="#ffffff" opacity="0.55"/>
<rect x="198.37" y="259.70" width="2.50" height="1.60" fill="#9a92dc" />
<rect x="198.37" y="274.98" width="2.50" height="0.60" fill="#ffffff" opacity="0.55"/>
<rect x="198.37" y="276.51" width="2.50" height="0.60" fill="#ffffff" opacity="0.55"/>
<rect x="198.37" y="277.84" width="2.50" height="0.60" fill="#ffffff" opacity="0.55"/>
<rect x="202.48" y="243.50" width="2.50" height="1.60" fill="#9a92dc" />
<rect x="202.48" y="269.42" width="2.50" height="0.60" fill="#ffffff" opacity="0.55"/>
<rect x="202.48" y="272.01" width="2.50" height="0.60" fill="#ffffff" opacity="0.55"/>
<rect x="202.48" y="274.28" width="2.50" height="0.60" fill="#ffffff" opacity="0.55"/>
<rect x="206.59" y="231.00" width="2.50" height="1.60" fill="#9a92dc" />
<rect x="206.59" y="263.56" width="2.50" height="0.60" fill="#ffffff" opacity="0.55"/>
<rect x="206.59" y="266.82" width="2.50" height="0.60" fill="#ffffff" opacity="0.55"/>
<rect x="206.59" y="269.66" width="2.50" height="0.60" fill="#ffffff" opacity="0.55"/>
<rect x="210.71" y="212.70" width="2.50" height="1.60" fill="#9a92dc" />
<rect x="210.71" y="252.70" width="2.50" height="0.60" fill="#ffffff" opacity="0.55"/>
<rect x="210.71" y="256.70" width="2.50" height="0.60" fill="#ffffff" opacity="0.55"/>
<rect x="210.71" y="260.20" width="2.50" height="0.60" fill="#ffffff" opacity="0.55"/>
<rect x="214.82" y="200.00" width="2.50" height="1.60" fill="#9a92dc" />
<rect x="214.82" y="242.56" width="2.50" height="0.60" fill="#ffffff" opacity="0.55"/>
<rect x="214.82" y="246.82" width="2.50" height="0.60" fill="#ffffff" opacity="0.55"/>
<rect x="214.82" y="250.54" width="2.50" height="0.60" fill="#ffffff" opacity="0.55"/>
<rect x="218.93" y="188.50" width="2.50" height="1.60" fill="#9a92dc" />
<rect x="218.93" y="231.62" width="2.50" height="0.60" fill="#ffffff" opacity="0.55"/>
<rect x="218.93" y="235.93" width="2.50" height="0.60" fill="#ffffff" opacity="0.55"/>
<rect x="218.93" y="239.70" width="2.50" height="0.60" fill="#ffffff" opacity="0.55"/>
<rect x="223.04" y="205.20" width="2.50" height="1.60" fill="#9a92dc" />
<rect x="223.04" y="235.84" width="2.50" height="0.60" fill="#ffffff" opacity="0.55"/>
<rect x="223.04" y="238.90" width="2.50" height="0.60" fill="#ffffff" opacity="0.55"/>
<rect x="223.04" y="241.59" width="2.50" height="0.60" fill="#ffffff" opacity="0.55"/>
<rect x="227.15" y="222.20" width="2.50" height="1.60" fill="#9a92dc" />
<rect x="227.15" y="243.64" width="2.50" height="0.60" fill="#ffffff" opacity="0.55"/>
<rect x="227.15" y="245.78" width="2.50" height="0.60" fill="#ffffff" opacity="0.55"/>
<rect x="227.15" y="247.66" width="2.50" height="0.60" fill="#ffffff" opacity="0.55"/>
<rect x="231.27" y="242.00" width="2.50" height="1.60" fill="#9a92dc" />
<rect x="231.27" y="257.20" width="2.50" height="0.60" fill="#ffffff" opacity="0.55"/>
<rect x="231.27" y="258.72" width="2.50" height="0.60" fill="#ffffff" opacity="0.55"/>
<rect x="231.27" y="260.05" width="2.50" height="0.60" fill="#ffffff" opacity="0.55"/>
<rect x="235.38" y="261.40" width="2.50" height="1.60" fill="#9a92dc" />
<rect x="235.38" y="269.08" width="2.50" height="0.60" fill="#ffffff" opacity="0.55"/>
<rect x="235.38" y="269.85" width="2.50" height="0.60" fill="#ffffff" opacity="0.55"/>
<rect x="235.38" y="270.52" width="2.50" height="0.60" fill="#ffffff" opacity="0.55"/>
<rect x="239.49" y="270.00" width="2.50" height="1.60" fill="#9a92dc" />
<line x1="50.50" y1="172.40" x2="50.50" y2="293.00" stroke="#333" stroke-width="1.3" />
<line x1="49.90" y1="292.50" x2="265.00" y2="292.50" stroke="#333" stroke-width="1.6" />
<text x="47.70" y="294.10" font-size="8.2" fill="#3c3c3c" font-weight="normal" text-anchor="end" textLength="12.4" lengthAdjust="spacingAndGlyphs" stroke="#3c3c3c" stroke-width="0.12">0.0</text>
<text x="47.70" y="270.40" font-size="8.2" fill="#3c3c3c" font-weight="normal" text-anchor="end" textLength="12.4" lengthAdjust="spacingAndGlyphs" stroke="#3c3c3c" stroke-width="0.12">0.5</text>
<text x="47.70" y="247.10" font-size="8.2" fill="#3c3c3c" font-weight="normal" text-anchor="end" textLength="12.4" lengthAdjust="spacingAndGlyphs" stroke="#3c3c3c" stroke-width="0.12">1.0</text>
<text x="47.70" y="226.10" font-size="8.2" fill="#3c3c3c" font-weight="normal" text-anchor="end" textLength="12.4" lengthAdjust="spacingAndGlyphs" stroke="#3c3c3c" stroke-width="0.12">1.5</text>
<text x="47.70" y="203.60" font-size="8.2" fill="#3c3c3c" font-weight="normal" text-anchor="end" textLength="12.4" lengthAdjust="spacingAndGlyphs" stroke="#3c3c3c" stroke-width="0.12">2.0</text>
<text x="47.70" y="180.40" font-size="8.2" fill="#3c3c3c" font-weight="normal" text-anchor="end" textLength="12.4" lengthAdjust="spacingAndGlyphs" stroke="#3c3c3c" stroke-width="0.12">2.5</text>
<text x="50.90" y="302.90" font-size="8.5" fill="#3c3c3c" font-weight="normal" text-anchor="middle" textLength="4.60" lengthAdjust="spacingAndGlyphs" stroke="#3c3c3c" stroke-width="0.12">0</text>
<text x="68.00" y="302.90" font-size="8.5" fill="#3c3c3c" font-weight="normal" text-anchor="middle" textLength="4.60" lengthAdjust="spacingAndGlyphs" stroke="#3c3c3c" stroke-width="0.12">5</text>
<text x="87.40" y="302.90" font-size="8.5" fill="#3c3c3c" font-weight="normal" text-anchor="middle" textLength="9.20" lengthAdjust="spacingAndGlyphs" stroke="#3c3c3c" stroke-width="0.12">10</text>
<text x="109.30" y="302.90" font-size="8.5" fill="#3c3c3c" font-weight="normal" text-anchor="middle" textLength="9.20" lengthAdjust="spacingAndGlyphs" stroke="#3c3c3c" stroke-width="0.12">15</text>
<text x="131.20" y="302.90" font-size="8.5" fill="#3c3c3c" font-weight="normal" text-anchor="middle" textLength="9.20" lengthAdjust="spacingAndGlyphs" stroke="#3c3c3c" stroke-width="0.12">20</text>
<text x="152.80" y="302.90" font-size="8.5" fill="#3c3c3c" font-weight="normal" text-anchor="middle" textLength="9.20" lengthAdjust="spacingAndGlyphs" stroke="#3c3c3c" stroke-width="0.12">25</text>
<text x="174.70" y="302.90" font-size="8.5" fill="#3c3c3c" font-weight="normal" text-anchor="middle" textLength="9.20" lengthAdjust="spacingAndGlyphs" stroke="#3c3c3c" stroke-width="0.12">30</text>
<text x="196.60" y="302.90" font-size="8.5" fill="#3c3c3c" font-weight="normal" text-anchor="middle" textLength="9.20" lengthAdjust="spacingAndGlyphs" stroke="#3c3c3c" stroke-width="0.12">35</text>
<text x="218.70" y="302.90" font-size="8.5" fill="#3c3c3c" font-weight="normal" text-anchor="middle" textLength="9.20" lengthAdjust="spacingAndGlyphs" stroke="#3c3c3c" stroke-width="0.12">40</text>
<text x="240.00" y="302.90" font-size="8.5" fill="#3c3c3c" font-weight="normal" text-anchor="middle" textLength="9.20" lengthAdjust="spacingAndGlyphs" stroke="#3c3c3c" stroke-width="0.12">45</text>
<text x="263.80" y="302.90" font-size="8.5" fill="#3c3c3c" font-weight="normal" text-anchor="middle" textLength="9.20" lengthAdjust="spacingAndGlyphs" stroke="#3c3c3c" stroke-width="0.12">50</text>
<text x="71.60" y="315.00" font-size="8.2" fill="#111" font-weight="bold" text-anchor="start" textLength="173.0" lengthAdjust="spacingAndGlyphs" stroke="#111" stroke-width="0.22">Kimura substitution level (CpG adjusted)</text>
<text transform="translate(28.3,294.9) rotate(-90)" font-size="8.6" font-weight="bold" fill="#111" stroke="#111" stroke-width="0.05" textLength="120.0" lengthAdjust="spacingAndGlyphs">Z chromosome proportion %</text>
<text x="11.60" y="169.40" font-size="14.8" fill="#000" font-weight="bold" text-anchor="start" stroke="#000" stroke-width="0.3" textLength="8.1" lengthAdjust="spacingAndGlyphs">b</text>
<line x1="116.10" y1="260.40" x2="124.54" y2="266.65" stroke="#111" stroke-width="1.3" />
<polygon points="129.60,270.40 122.05,269.16 126.22,263.54" fill="#111"/>
<line x1="204.60" y1="181.60" x2="214.18" y2="188.07" stroke="#111" stroke-width="1.3" />
<polygon points="219.40,191.60 211.81,190.69 215.73,184.89" fill="#111"/>
<line x1="255.90" y1="266.60" x2="247.19" y2="277.05" stroke="#2db52d" stroke-width="1.5" />
<polygon points="242.90,282.20 244.28,273.98 250.74,279.36" fill="#2db52d"/>
<text x="277.60" y="35.70" font-size="8.1" fill="#111" font-weight="bold" text-anchor="start" textLength="98.2" lengthAdjust="spacingAndGlyphs" stroke="#111" stroke-width="0.2">Transposable elements</text>
<rect x="279.6" y="43.6" width="118.2" height="249.6" fill="none" stroke="#1a1a1a" stroke-width="1.2"/>
<rect x="283.30" y="47.30" width="10.90" height="4.30" fill="#e2e6fa" />
<text x="296.80" y="51.00" font-size="5.4" fill="#555" font-weight="normal" text-anchor="start" >SINE/tRNA-CR1</text>
<rect x="283.30" y="55.24" width="10.90" height="4.30" fill="#dcd6fa" />
<text x="296.80" y="58.94" font-size="5.4" fill="#555" font-weight="normal" text-anchor="start" >SINE/tRNA-7SL</text>
<rect x="283.30" y="63.18" width="10.90" height="4.30" fill="#d6c4f8" />
<text x="296.80" y="66.88" font-size="5.4" fill="#555" font-weight="normal" text-anchor="start" >SINE/U</text>
<rect x="283.30" y="71.12" width="10.90" height="4.30" fill="#cea8f5" />
<text x="296.80" y="74.82" font-size="5.4" fill="#555" font-weight="normal" text-anchor="start" >SINE/MIR</text>
<rect x="283.30" y="79.06" width="10.90" height="4.30" fill="#c698f3" />
<text x="296.80" y="82.76" font-size="5.4" fill="#555" font-weight="normal" text-anchor="start" >SINE/tRNA-V</text>
<rect x="283.30" y="87.00" width="10.90" height="4.30" fill="#bc88f1" />
<text x="296.80" y="90.70" font-size="5.4" fill="#555" font-weight="normal" text-anchor="start" >SINE/Deu</text>
<rect x="283.30" y="94.94" width="10.90" height="4.30" fill="#b47cf0" />
<text x="296.80" y="98.64" font-size="5.4" fill="#555" font-weight="normal" text-anchor="start" >SINE/RTE</text>
<rect x="283.30" y="102.88" width="10.90" height="4.30" fill="#ae70ee" />
<text x="296.80" y="106.58" font-size="5.4" fill="#555" font-weight="normal" text-anchor="start" >SINE/tRNA-RTE</text>
<rect x="283.30" y="110.82" width="10.90" height="4.30" fill="#a862ec" />
<text x="296.80" y="114.52" font-size="5.4" fill="#555" font-weight="normal" text-anchor="start" >SINE/tRNA-Alu</text>
<rect x="283.30" y="118.76" width="10.90" height="4.30" fill="#a054ea" />
<text x="296.80" y="122.46" font-size="5.4" fill="#555" font-weight="normal" text-anchor="start" >SINE/tRNA</text>
<rect x="283.30" y="126.70" width="10.90" height="4.30" fill="#9844e8" />
<text x="296.80" y="130.40" font-size="5.4" fill="#555" font-weight="normal" text-anchor="start" >SINE/Alu</text>
<rect x="283.30" y="134.64" width="10.90" height="4.30" fill="#9034e6" />
<text x="296.80" y="138.34" font-size="5.4" fill="#555" font-weight="normal" text-anchor="start" >SINE/7SL</text>
<rect x="283.30" y="142.58" width="10.90" height="4.30" fill="#8822e4" />
<text x="296.80" y="146.28" font-size="5.4" fill="#555" font-weight="normal" text-anchor="start" >SINE/5S</text>
<rect x="283.30" y="150.52" width="10.90" height="4.30" fill="#7a00e0" />
<text x="296.80" y="154.22" font-size="5.4" fill="#555" font-weight="normal" text-anchor="start" >SINE</text>
<rect x="283.30" y="158.46" width="10.90" height="4.30" fill="#fb4040" />
<text x="296.80" y="162.16" font-size="5.4" fill="#555" font-weight="normal" text-anchor="start" >Retroposon/SVA</text>
<rect x="283.30" y="166.40" width="10.90" height="4.30" fill="#c6dcf8" />
<text x="296.80" y="170.10" font-size="5.4" fill="#555" font-weight="normal" text-anchor="start" >LINE/CRE</text>
<rect x="283.30" y="174.34" width="10.90" height="4.30" fill="#a8d6e2" />
<text x="296.80" y="178.04" font-size="5.4" fill="#555" font-weight="normal" text-anchor="start" >LINE/Penelope</text>
<rect x="283.30" y="182.28" width="10.90" height="4.30" fill="#a0c2e0" />
<text x="296.80" y="185.98" font-size="5.4" fill="#555" font-weight="normal" text-anchor="start" >LINE/R2</text>
<rect x="283.30" y="190.22" width="10.90" height="4.30" fill="#98b0de" />
<text x="296.80" y="193.92" font-size="5.4" fill="#555" font-weight="normal" text-anchor="start" >LINE/Dong-R4</text>
<rect x="283.30" y="198.16" width="10.90" height="4.30" fill="#8fa0d8" />
<text x="296.80" y="201.86" font-size="5.4" fill="#555" font-weight="normal" text-anchor="start" >LINE/Jockey-I</text>
<rect x="283.30" y="206.10" width="10.90" height="4.30" fill="#8890d0" />
<text x="296.80" y="209.80" font-size="5.4" fill="#555" font-weight="normal" text-anchor="start" >LINE/R1</text>
<rect x="283.30" y="214.04" width="10.90" height="4.30" fill="#7c80c8" />
<text x="296.80" y="217.74" font-size="5.4" fill="#555" font-weight="normal" text-anchor="start" >LINE/LOA</text>
<rect x="283.30" y="221.98" width="10.90" height="4.30" fill="#7070c0" />
<text x="296.80" y="225.68" font-size="5.4" fill="#555" font-weight="normal" text-anchor="start" >LINE/Proto2</text>
<rect x="283.30" y="229.92" width="10.90" height="4.30" fill="#6060b8" />
<text x="296.80" y="233.62" font-size="5.4" fill="#555" font-weight="normal" text-anchor="start" >LINE/L2</text>
<rect x="283.30" y="237.86" width="10.90" height="4.30" fill="#5050b0" />
<text x="296.80" y="241.56" font-size="5.4" fill="#555" font-weight="normal" text-anchor="start" >LINE/Rex-Babar</text>
<rect x="283.30" y="245.80" width="10.90" height="4.30" fill="#4040a8" />
<text x="296.80" y="249.50" font-size="5.4" fill="#555" font-weight="normal" text-anchor="start" >LINE/CR1</text>
<rect x="283.30" y="253.74" width="10.90" height="4.30" fill="#3020a0" />
<text x="296.80" y="257.44" font-size="5.4" fill="#555" font-weight="normal" text-anchor="start" >LINE/RTE</text>
<rect x="283.30" y="261.68" width="10.90" height="4.30" fill="#201090" />
<text x="296.80" y="265.38" font-size="5.4" fill="#555" font-weight="normal" text-anchor="start" >LINE</text>
<rect x="343.70" y="47.05" width="12.20" height="4.40" fill="#000080" />
<text x="358.30" y="51.00" font-size="5.4" fill="#555" font-weight="normal" text-anchor="start" >LINE/L1</text>
<rect x="343.70" y="54.99" width="12.20" height="4.40" fill="#90ee90" />
<text x="358.30" y="58.94" font-size="5.4" fill="#555" font-weight="normal" text-anchor="start" >LTR/ERVK</text>
<rect x="343.70" y="62.93" width="12.20" height="4.40" fill="#80e080" />
<text x="358.30" y="66.88" font-size="5.4" fill="#555" font-weight="normal" text-anchor="start" >LTR/ERV</text>
<rect x="343.70" y="70.87" width="12.20" height="4.40" fill="#70d070" />
<text x="358.30" y="74.82" font-size="5.4" fill="#555" font-weight="normal" text-anchor="start" >LTR/ERV1</text>
<rect x="343.70" y="78.81" width="12.20" height="4.40" fill="#62c062" />
<text x="358.30" y="82.76" font-size="5.4" fill="#555" font-weight="normal" text-anchor="start" >LTR</text>
<rect x="343.70" y="86.75" width="12.20" height="4.40" fill="#52b052" />
<text x="358.30" y="90.70" font-size="5.4" fill="#555" font-weight="normal" text-anchor="start" >LTR/ERVL</text>
<rect x="343.70" y="94.69" width="12.20" height="4.40" fill="#42a042" />
<text x="358.30" y="98.64" font-size="5.4" fill="#555" font-weight="normal" text-anchor="start" >LTR/Gypsy</text>
<rect x="343.70" y="102.63" width="12.20" height="4.40" fill="#329032" />
<text x="358.30" y="106.58" font-size="5.4" fill="#555" font-weight="normal" text-anchor="start" >LTR/Copia</text>
<rect x="343.70" y="110.57" width="12.20" height="4.40" fill="#228022" />
<text x="358.30" y="114.52" font-size="5.4" fill="#555" font-weight="normal" text-anchor="start" >LTR/Pao</text>
<rect x="343.70" y="118.51" width="12.20" height="4.40" fill="#127012" />
<text x="358.30" y="122.46" font-size="5.4" fill="#555" font-weight="normal" text-anchor="start" >LTR/Ngaro</text>
<rect x="343.70" y="126.45" width="12.20" height="4.40" fill="#006400" />
<text x="358.30" y="130.40" font-size="5.4" fill="#555" font-weight="normal" text-anchor="start" >LTR/DIRS</text>
<rect x="343.70" y="134.39" width="12.20" height="4.40" fill="#ff00ff" />
<text x="358.30" y="138.34" font-size="5.4" fill="#555" font-weight="normal" text-anchor="start" >RC/Helitron</text>
<rect x="343.70" y="142.33" width="12.20" height="4.40" fill="#ffcfbf" />
<text x="358.30" y="146.28" font-size="5.4" fill="#555" font-weight="normal" text-anchor="start" >DNA/Dada</text>
<rect x="343.70" y="150.27" width="12.20" height="4.40" fill="#ffa080" />
<text x="358.30" y="154.22" font-size="5.4" fill="#555" font-weight="normal" text-anchor="start" >DNA/Zator</text>
<rect x="343.70" y="158.21" width="12.20" height="4.40" fill="#ff9870" />
<text x="358.30" y="162.16" font-size="5.4" fill="#555" font-weight="normal" text-anchor="start" >DNA/TcMar</text>
<rect x="343.70" y="166.15" width="12.20" height="4.40" fill="#ff9068" />
<text x="358.30" y="170.10" font-size="5.4" fill="#555" font-weight="normal" text-anchor="start" >DNA/Sola</text>
<rect x="343.70" y="174.09" width="12.20" height="4.40" fill="#ff8860" />
<text x="358.30" y="178.04" font-size="5.4" fill="#555" font-weight="normal" text-anchor="start" >DNA/PiggyBac</text>
<rect x="343.70" y="182.03" width="12.20" height="4.40" fill="#ff8058" />
<text x="358.30" y="185.98" font-size="5.4" fill="#555" font-weight="normal" text-anchor="start" >DNA/P</text>
<rect x="343.70" y="189.97" width="12.20" height="4.40" fill="#ff7850" />
<text x="358.30" y="193.92" font-size="5.4" fill="#555" font-weight="normal" text-anchor="start" >DNA/MULE</text>
<rect x="343.70" y="197.91" width="12.20" height="4.40" fill="#ff7048" />
<text x="358.30" y="201.86" font-size="5.4" fill="#555" font-weight="normal" text-anchor="start" >DNA/Merlin</text>
<rect x="343.70" y="205.85" width="12.20" height="4.40" fill="#ff6840" />
<text x="358.30" y="209.80" font-size="5.4" fill="#555" font-weight="normal" text-anchor="start" >DNA</text>
<rect x="343.70" y="213.79" width="12.20" height="4.40" fill="#ff6038" />
<text x="358.30" y="217.74" font-size="5.4" fill="#555" font-weight="normal" text-anchor="start" >DNA/Maverick</text>
<rect x="343.70" y="221.73" width="12.20" height="4.40" fill="#ff5830" />
<text x="358.30" y="225.68" font-size="5.4" fill="#555" font-weight="normal" text-anchor="start" >DNA/Kolobok</text>
<rect x="343.70" y="229.67" width="12.20" height="4.40" fill="#ff5028" />
<text x="358.30" y="233.62" font-size="5.4" fill="#555" font-weight="normal" text-anchor="start" >DNA/hAT</text>
<rect x="343.70" y="237.61" width="12.20" height="4.40" fill="#ff4820" />
<text x="358.30" y="241.56" font-size="5.4" fill="#555" font-weight="normal" text-anchor="start" >DNA/Harbinger</text>
<rect x="343.70" y="245.55" width="12.20" height="4.40" fill="#ff4018" />
<text x="358.30" y="249.50" font-size="5.4" fill="#555" font-weight="normal" text-anchor="start" >DNA/Ginger</text>
<rect x="343.70" y="253.49" width="12.20" height="4.40" fill="#ff3010" />
<text x="358.30" y="257.44" font-size="5.4" fill="#555" font-weight="normal" text-anchor="start" >DNA/Crypton</text>
<rect x="343.70" y="261.43" width="12.20" height="4.40" fill="#ff2008" />
<text x="358.30" y="265.38" font-size="5.4" fill="#555" font-weight="normal" text-anchor="start" >DNA/CMC</text>
<rect x="343.70" y="269.37" width="12.20" height="4.40" fill="#ff0000" />
<text x="358.30" y="273.32" font-size="5.4" fill="#555" font-weight="normal" text-anchor="start" >DNA/Academ</text>
<rect x="343.70" y="277.31" width="12.20" height="4.40" fill="#505050" />
<text x="358.30" y="281.26" font-size="5.4" fill="#555" font-weight="normal" text-anchor="start" >Other</text>
<rect x="343.70" y="285.25" width="12.20" height="4.40" fill="#a0a0a0" />
<text x="358.30" y="289.20" font-size="5.4" fill="#555" font-weight="normal" text-anchor="start" >Unknown</text>
<text x="11.00" y="340.40" font-size="14.0" fill="#000" font-weight="bold" text-anchor="start" stroke="#000" stroke-width="0.3">c</text>
<text x="76.30" y="471.70" font-size="6.8" fill="#333" font-weight="normal" text-anchor="end" textLength="17.9" lengthAdjust="spacingAndGlyphs">0.00%</text>
<line x1="77.60" y1="469.30" x2="80.00" y2="469.30" stroke="#bbb" stroke-width="0.7" />
<line x1="80.00" y1="457.24" x2="381.20" y2="457.24" stroke="#cfcfcf" stroke-width="0.8" />
<text x="76.30" y="459.63" font-size="6.8" fill="#333" font-weight="normal" text-anchor="end" textLength="21.4" lengthAdjust="spacingAndGlyphs">10.00%</text>
<line x1="77.60" y1="457.24" x2="80.00" y2="457.24" stroke="#bbb" stroke-width="0.7" />
<line x1="80.00" y1="445.17" x2="381.20" y2="445.17" stroke="#cfcfcf" stroke-width="0.8" />
<text x="76.30" y="447.57" font-size="6.8" fill="#333" font-weight="normal" text-anchor="end" textLength="21.4" lengthAdjust="spacingAndGlyphs">20.00%</text>
<line x1="77.60" y1="445.17" x2="80.00" y2="445.17" stroke="#bbb" stroke-width="0.7" />
<line x1="80.00" y1="433.11" x2="381.20" y2="433.11" stroke="#cfcfcf" stroke-width="0.8" />
<text x="76.30" y="435.50" font-size="6.8" fill="#333" font-weight="normal" text-anchor="end" textLength="21.4" lengthAdjust="spacingAndGlyphs">30.00%</text>
<line x1="77.60" y1="433.11" x2="80.00" y2="433.11" stroke="#bbb" stroke-width="0.7" />
<line x1="80.00" y1="421.04" x2="381.20" y2="421.04" stroke="#cfcfcf" stroke-width="0.8" />
<text x="76.30" y="423.44" font-size="6.8" fill="#333" font-weight="normal" text-anchor="end" textLength="21.4" lengthAdjust="spacingAndGlyphs">40.00%</text>
<line x1="77.60" y1="421.04" x2="80.00" y2="421.04" stroke="#bbb" stroke-width="0.7" />
<line x1="80.00" y1="408.98" x2="381.20" y2="408.98" stroke="#cfcfcf" stroke-width="0.8" />
<text x="76.30" y="411.38" font-size="6.8" fill="#333" font-weight="normal" text-anchor="end" textLength="21.4" lengthAdjust="spacingAndGlyphs">50.00%</text>
<line x1="77.60" y1="408.98" x2="80.00" y2="408.98" stroke="#bbb" stroke-width="0.7" />
<line x1="80.00" y1="396.91" x2="381.20" y2="396.91" stroke="#cfcfcf" stroke-width="0.8" />
<text x="76.30" y="399.31" font-size="6.8" fill="#333" font-weight="normal" text-anchor="end" textLength="21.4" lengthAdjust="spacingAndGlyphs">60.00%</text>
<line x1="77.60" y1="396.91" x2="80.00" y2="396.91" stroke="#bbb" stroke-width="0.7" />
<line x1="80.00" y1="384.85" x2="381.20" y2="384.85" stroke="#cfcfcf" stroke-width="0.8" />
<text x="76.30" y="387.25" font-size="6.8" fill="#333" font-weight="normal" text-anchor="end" textLength="21.4" lengthAdjust="spacingAndGlyphs">70.00%</text>
<line x1="77.60" y1="384.85" x2="80.00" y2="384.85" stroke="#bbb" stroke-width="0.7" />
<line x1="80.00" y1="372.78" x2="381.20" y2="372.78" stroke="#cfcfcf" stroke-width="0.8" />
<text x="76.30" y="375.18" font-size="6.8" fill="#333" font-weight="normal" text-anchor="end" textLength="21.4" lengthAdjust="spacingAndGlyphs">80.00%</text>
<line x1="77.60" y1="372.78" x2="80.00" y2="372.78" stroke="#bbb" stroke-width="0.7" />
<line x1="80.00" y1="360.72" x2="381.20" y2="360.72" stroke="#cfcfcf" stroke-width="0.8" />
<text x="76.30" y="363.12" font-size="6.8" fill="#333" font-weight="normal" text-anchor="end" textLength="21.4" lengthAdjust="spacingAndGlyphs">90.00%</text>
<line x1="77.60" y1="360.72" x2="80.00" y2="360.72" stroke="#bbb" stroke-width="0.7" />
<line x1="80.00" y1="348.65" x2="381.20" y2="348.65" stroke="#cfcfcf" stroke-width="0.8" />
<text x="76.30" y="351.05" font-size="6.8" fill="#333" font-weight="normal" text-anchor="end" textLength="24.7" lengthAdjust="spacingAndGlyphs">100.00%</text>
<line x1="77.60" y1="348.65" x2="80.00" y2="348.65" stroke="#bbb" stroke-width="0.7" />
<line x1="381.20" y1="348.60" x2="381.20" y2="469.30" stroke="#cfcfcf" stroke-width="0.8" />
<line x1="80.30" y1="348.30" x2="80.30" y2="469.80" stroke="#c4c4c4" stroke-width="1.0" />
<line x1="79.50" y1="469.40" x2="381.50" y2="469.40" stroke="#bdbdbd" stroke-width="1.0" />
<rect x="83.30" y="364.82" width="6.40" height="104.48" fill="#3898cd" />
<rect x="83.30" y="348.65" width="6.40" height="16.17" fill="#ff59f3" />
<rect x="95.85" y="348.65" width="6.40" height="120.65" fill="#3898cd" />
<rect x="108.40" y="366.02" width="6.40" height="103.28" fill="#3898cd" />
<rect x="108.40" y="348.65" width="6.40" height="17.37" fill="#ff59f3" />
<rect x="120.94" y="348.65" width="6.40" height="120.65" fill="#3898cd" />
<rect x="133.49" y="370.25" width="6.40" height="99.05" fill="#3898cd" />
<rect x="133.49" y="348.65" width="6.40" height="21.60" fill="#ff59f3" />
<rect x="146.04" y="350.34" width="6.40" height="118.96" fill="#3898cd" />
<rect x="146.04" y="348.65" width="6.40" height="1.69" fill="#ff59f3" />
<rect x="158.59" y="351.55" width="6.40" height="117.75" fill="#3898cd" />
<rect x="158.59" y="348.65" width="6.40" height="2.90" fill="#ff59f3" />
<rect x="171.14" y="365.30" width="6.40" height="104.00" fill="#3898cd" />
<rect x="171.14" y="348.65" width="6.40" height="16.65" fill="#ff59f3" />
<rect x="183.68" y="354.44" width="6.40" height="114.86" fill="#3898cd" />
<rect x="183.68" y="348.65" width="6.40" height="5.79" fill="#ff59f3" />
<rect x="196.23" y="357.82" width="6.40" height="111.48" fill="#3898cd" />
<rect x="196.23" y="348.65" width="6.40" height="9.17" fill="#ff59f3" />
<rect x="208.78" y="351.55" width="6.40" height="117.75" fill="#3898cd" />
<rect x="208.78" y="348.65" width="6.40" height="2.90" fill="#ff59f3" />
<rect x="221.33" y="354.92" width="6.40" height="114.38" fill="#3898cd" />
<rect x="221.33" y="348.65" width="6.40" height="6.27" fill="#ff59f3" />
<rect x="233.88" y="360.59" width="6.40" height="108.71" fill="#3898cd" />
<rect x="233.88" y="348.65" width="6.40" height="11.94" fill="#ff59f3" />
<rect x="246.42" y="351.30" width="6.40" height="118.00" fill="#3898cd" />
<rect x="246.42" y="348.65" width="6.40" height="2.65" fill="#ff59f3" />
<rect x="258.97" y="351.30" width="6.40" height="118.00" fill="#3898cd" />
<rect x="258.97" y="348.65" width="6.40" height="2.65" fill="#ff59f3" />
<rect x="271.52" y="357.82" width="6.40" height="111.48" fill="#3898cd" />
<rect x="271.52" y="348.65" width="6.40" height="9.17" fill="#ff59f3" />
<rect x="284.07" y="349.01" width="6.40" height="120.29" fill="#3898cd" />
<rect x="284.07" y="348.65" width="6.40" height="0.36" fill="#ff59f3" />
<rect x="296.62" y="350.34" width="6.40" height="118.96" fill="#3898cd" />
<rect x="296.62" y="348.65" width="6.40" height="1.69" fill="#ff59f3" />
<rect x="309.16" y="348.65" width="6.40" height="120.65" fill="#3898cd" />
<rect x="321.71" y="352.03" width="6.40" height="117.27" fill="#3898cd" />
<rect x="321.71" y="348.65" width="6.40" height="3.38" fill="#ff59f3" />
<rect x="334.26" y="380.38" width="6.40" height="88.92" fill="#3898cd" />
<rect x="334.26" y="348.65" width="6.40" height="31.73" fill="#ff59f3" />
<rect x="346.81" y="349.86" width="6.40" height="119.44" fill="#3898cd" />
<rect x="346.81" y="348.65" width="6.40" height="1.21" fill="#ff59f3" />
<rect x="359.36" y="392.57" width="6.40" height="76.73" fill="#3898cd" />
<rect x="359.36" y="348.65" width="6.40" height="43.92" fill="#ff59f3" />
<rect x="371.90" y="385.45" width="6.40" height="83.85" fill="#3898cd" />
<rect x="371.90" y="348.65" width="6.40" height="36.80" fill="#ff59f3" />
<line x1="79.90" y1="469.60" x2="79.90" y2="472.20" stroke="#aaa" stroke-width="0.7" />
<line x1="92.45" y1="469.60" x2="92.45" y2="472.20" stroke="#aaa" stroke-width="0.7" />
<line x1="105.00" y1="469.60" x2="105.00" y2="472.20" stroke="#aaa" stroke-width="0.7" />
<line x1="117.54" y1="469.60" x2="117.54" y2="472.20" stroke="#aaa" stroke-width="0.7" />
<line x1="130.09" y1="469.60" x2="130.09" y2="472.20" stroke="#aaa" stroke-width="0.7" />
<line x1="142.64" y1="469.60" x2="142.64" y2="472.20" stroke="#aaa" stroke-width="0.7" />
<line x1="155.19" y1="469.60" x2="155.19" y2="472.20" stroke="#aaa" stroke-width="0.7" />
<line x1="167.74" y1="469.60" x2="167.74" y2="472.20" stroke="#aaa" stroke-width="0.7" />
<line x1="180.28" y1="469.60" x2="180.28" y2="472.20" stroke="#aaa" stroke-width="0.7" />
<line x1="192.83" y1="469.60" x2="192.83" y2="472.20" stroke="#aaa" stroke-width="0.7" />
<line x1="205.38" y1="469.60" x2="205.38" y2="472.20" stroke="#aaa" stroke-width="0.7" />
<line x1="217.93" y1="469.60" x2="217.93" y2="472.20" stroke="#aaa" stroke-width="0.7" />
<line x1="230.48" y1="469.60" x2="230.48" y2="472.20" stroke="#aaa" stroke-width="0.7" />
<line x1="243.02" y1="469.60" x2="243.02" y2="472.20" stroke="#aaa" stroke-width="0.7" />
<line x1="255.57" y1="469.60" x2="255.57" y2="472.20" stroke="#aaa" stroke-width="0.7" />
<line x1="268.12" y1="469.60" x2="268.12" y2="472.20" stroke="#aaa" stroke-width="0.7" />
<line x1="280.67" y1="469.60" x2="280.67" y2="472.20" stroke="#aaa" stroke-width="0.7" />
<line x1="293.22" y1="469.60" x2="293.22" y2="472.20" stroke="#aaa" stroke-width="0.7" />
<line x1="305.76" y1="469.60" x2="305.76" y2="472.20" stroke="#aaa" stroke-width="0.7" />
<line x1="318.31" y1="469.60" x2="318.31" y2="472.20" stroke="#aaa" stroke-width="0.7" />
<line x1="330.86" y1="469.60" x2="330.86" y2="472.20" stroke="#aaa" stroke-width="0.7" />
<line x1="343.41" y1="469.60" x2="343.41" y2="472.20" stroke="#aaa" stroke-width="0.7" />
<line x1="355.96" y1="469.60" x2="355.96" y2="472.20" stroke="#aaa" stroke-width="0.7" />
<line x1="368.50" y1="469.60" x2="368.50" y2="472.20" stroke="#aaa" stroke-width="0.7" />
<line x1="381.05" y1="469.60" x2="381.05" y2="472.20" stroke="#aaa" stroke-width="0.7" />
<text x="102.80" y="342.00" font-size="9.0" fill="#111" font-weight="bold" text-anchor="start" textLength="84.2" lengthAdjust="spacingAndGlyphs" stroke="#111" stroke-width="0.25">Relative abundance</text>
<rect x="190.4" y="334.3" width="111.4" height="10.9" rx="1.5" fill="#fff" stroke="#222" stroke-width="1.0"/>
<rect x="193.70" y="336.90" width="4.00" height="4.00" fill="#ff59f3" />
<text x="200.30" y="342.00" font-size="7.0" fill="#222" font-weight="normal" text-anchor="start" textLength="44.2" lengthAdjust="spacingAndGlyphs">W chromosome</text>
<rect x="249.90" y="336.90" width="4.00" height="4.00" fill="#3898cd" />
<text x="257.40" y="342.00" font-size="7.0" fill="#222" font-weight="normal" text-anchor="start" textLength="40.2" lengthAdjust="spacingAndGlyphs">Z chromosome</text>
<text transform="translate(88.20,478.20) rotate(-45)" font-size="6.5" fill="#333" text-anchor="end">SINEs</text>
<text transform="translate(100.75,478.20) rotate(-45)" font-size="6.5" fill="#3d74b8" text-anchor="end">Penelope</text>
<text transform="translate(113.30,478.20) rotate(-45)" font-size="6.5" fill="#333" text-anchor="end">LINEs</text>
<text transform="translate(125.84,478.20) rotate(-45)" font-size="6.5" fill="#3d74b8" text-anchor="end">CRE/SLACS</text>
<text transform="translate(138.39,478.20) rotate(-45)" font-size="6.5" fill="#333" text-anchor="end">L2/CR1/Rex</text>
<text transform="translate(150.94,478.20) rotate(-45)" font-size="6.5" fill="#333" text-anchor="end">R1/LOA/Jockey</text>
<text transform="translate(163.49,478.20) rotate(-45)" font-size="6.5" fill="#333" text-anchor="end">R2/R4/NeSL</text>
<text transform="translate(176.04,478.20) rotate(-45)" font-size="6.5" fill="#333" text-anchor="end">RTE/Bov-B</text>
<text transform="translate(188.58,478.20) rotate(-45)" font-size="6.5" fill="#333" text-anchor="end">L1/CIN4</text>
<text transform="translate(201.13,478.20) rotate(-45)" font-size="6.5" fill="#333" text-anchor="end">LTR elements</text>
<text transform="translate(213.68,478.20) rotate(-45)" font-size="6.5" fill="#333" text-anchor="end">BEL/Pao</text>
<text transform="translate(226.23,478.20) rotate(-45)" font-size="6.5" fill="#333" text-anchor="end">Ty1/Copia</text>
<text transform="translate(238.78,478.20) rotate(-45)" font-size="6.5" fill="#333" text-anchor="end">Gypsy/DIRS1</text>
<text transform="translate(251.32,478.20) rotate(-45)" font-size="6.5" fill="#333" text-anchor="end">Retroviral</text>
<text transform="translate(263.87,478.20) rotate(-45)" font-size="6.5" fill="#333" text-anchor="end">hobo-Activator</text>
<text transform="translate(276.42,478.20) rotate(-45)" font-size="6.5" fill="#333" text-anchor="end">Tc1-IS630-Pogo</text>
<text transform="translate(288.97,478.20) rotate(-45)" font-size="6.5" fill="#333" text-anchor="end">PiggyBac</text>
<text transform="translate(301.52,478.20) rotate(-45)" font-size="6.5" fill="#333" text-anchor="end">Tourist/Harbinger</text>
<text transform="translate(314.46,475.20) rotate(-45)" font-size="6.5" fill="#3d74b8" text-anchor="end">Other <tspan font-size="5.0">(Mirage, P-element, Transib)</tspan></text>
<text transform="translate(326.61,478.20) rotate(-45)" font-size="6.5" fill="#333" text-anchor="end">Unknown</text>
<text transform="translate(339.16,478.20) rotate(-45)" font-size="6.5" fill="#333" text-anchor="end">Small RNA</text>
<text transform="translate(351.71,478.20) rotate(-45)" font-size="6.5" fill="#333" text-anchor="end">Satellites</text>
<text transform="translate(364.26,478.20) rotate(-45)" font-size="6.5" fill="#333" text-anchor="end">Simple repeats</text>
<text transform="translate(376.80,478.20) rotate(-45)" font-size="6.5" fill="#333" text-anchor="end">Low complexity</text>
<text x="205.00" y="538.00" font-size="7.9" fill="#111" font-weight="bold" text-anchor="start" textLength="49.6" lengthAdjust="spacingAndGlyphs" stroke="#111" stroke-width="0.12">Repeat type</text>
<path d="M16.3,475.5 C20.6,475.5 23.1,478.6 23.1,482.8 L23.1,493.2 C23.1,497.6 19.2,498.6 19.2,500.7 C19.2,502.8 23.1,503.8 23.1,508.2 L23.1,524.5 C23.1,528.5 20.5,531 16.3,531 C12.1,531 9.5,528.5 9.5,524.5 L9.5,508.2 C9.5,503.8 13.4,502.8 13.4,500.7 C13.4,498.6 9.5,497.6 9.5,493.2 L9.5,482.8 C9.5,478.6 12.0,475.5 16.3,475.5 Z" fill="#4bbfd9"/>
<path d="M40.3,486 C44.6,486 47,488.2 47,491.5 L47,494.8 C47,498.3 43.2,498.8 43.2,500.7 C43.2,502.6 47,503.6 47,507.8 L47,524.5 C47,528.5 44.3,531 40.3,531 C36.3,531 33.6,528.5 33.6,524.5 L33.6,507.8 C33.6,503.6 37.4,502.6 37.4,500.7 C37.4,498.8 33.6,498.3 33.6,494.8 L33.6,491.5 C33.6,488.2 36.0,486 40.3,486 Z" fill="#f063a2"/>
<text x="16.40" y="540.90" font-size="9.4" fill="#111" font-weight="bold" text-anchor="middle" >Z</text>
<text x="39.80" y="540.90" font-size="9.4" fill="#111" font-weight="bold" text-anchor="middle" >W</text>
</svg>
</body></html>
